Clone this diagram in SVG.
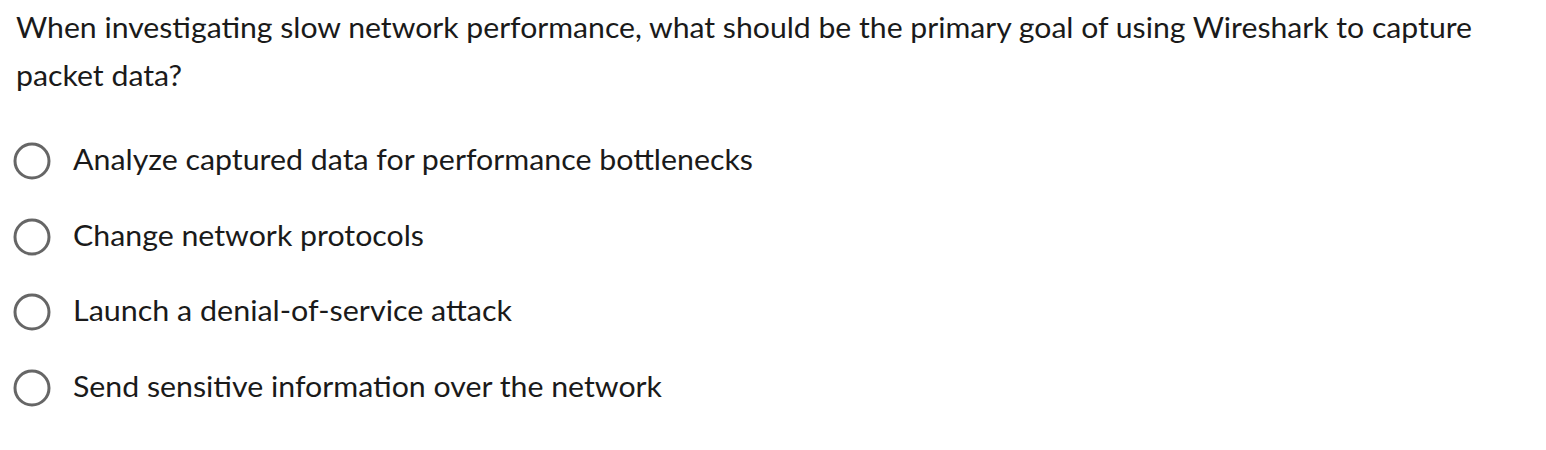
<svg xmlns="http://www.w3.org/2000/svg" width="1546" height="450" viewBox="0 0 1546 450">
<style>
text{font-family:Lato,"Open Sans",sans-serif;font-size:28px;fill:#1a1a1a}
.r{fill:none;stroke:#666;stroke-width:3}
</style>
<rect width="1546" height="450" fill="#fff"/>
<g id="question">
<text x="16" y="38" textLength="1456" lengthAdjust="spacingAndGlyphs">When investigating slow network performance, what should be the primary goal of using Wireshark to capture</text>
<text x="16" y="86" textLength="166" lengthAdjust="spacingAndGlyphs">packet data?</text>
</g>
<g id="opt1"><circle class="r" cx="32" cy="161" r="17"/><text x="73" y="170" textLength="680" lengthAdjust="spacingAndGlyphs">Analyze captured data for performance bottlenecks</text></g>
<g id="opt2"><circle class="r" cx="32" cy="237" r="17"/><text x="73" y="246" textLength="351" lengthAdjust="spacingAndGlyphs">Change network protocols</text></g>
<g id="opt3"><circle class="r" cx="32" cy="312" r="17"/><text x="73" y="321" textLength="439" lengthAdjust="spacingAndGlyphs">Launch a denial-of-service attack</text></g>
<g id="opt4"><circle class="r" cx="32" cy="388" r="17"/><text x="73" y="397" textLength="589" lengthAdjust="spacingAndGlyphs">Send sensitive information over the network</text></g>
<g id="connectors"/>
</svg>
